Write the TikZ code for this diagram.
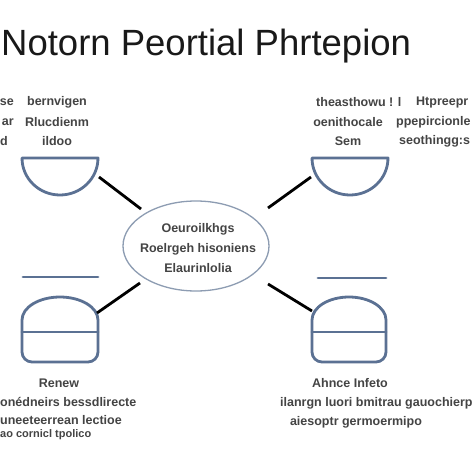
\documentclass[tikz,border=0pt]{standalone}
\usepackage{fontspec}
\setmainfont{Liberation Sans}
\usetikzlibrary{shapes.geometric}
\definecolor{shapeblue}{HTML}{5B7193}
\definecolor{ellline}{HTML}{8D9CB2}
\definecolor{txtgray}{HTML}{444444}
\tikzset{
  shp/.style={draw=shapeblue, line width=2.8pt, line join=round, line cap=round},
  conn/.style={draw=black, line width=2.8pt},
  lbl/.style={text=txtgray, font=\bfseries\fontsize{12.5}{13}\selectfont, inner sep=0pt},
  lbls/.style={text=txtgray, font=\bfseries\fontsize{11}{12}\selectfont, inner sep=0pt},
}
\begin{document}
\begin{tikzpicture}[x=1pt,y=1pt,yscale=-1]
\useasboundingbox[fill=white] (0,0) rectangle (474,474);
% title
\node[anchor=base west, inner sep=0pt, text=black!90, font=\fontsize{36.5}{40}\selectfont] (title) at (1,55) {Notorn Peortial Phrtepion};
% hub ellipse
\node[ellipse, draw=ellline, line width=1.3pt, minimum width=146pt, minimum height=90pt, inner sep=0pt] (hub) at (196,246) {};
\node[lbl] (h1) at (198,229) {Oeuroilkhgs};
\node[lbl] (h2) at (198,249) {Roelrgeh hisoniens};
\node[lbl] (h3) at (198,268) {Elaurinlolia};
% top-left bowl
\draw[shp] (22,158) -- (98,158) arc[start angle=0, end angle=180, x radius=38, y radius=37];
\coordinate (tlA) at (99,177);
\coordinate (tlB) at (141,209);
\draw[conn] (tlA) -- (tlB);
% top-right bowl
\draw[shp] (312,158) -- (388,158) arc[start angle=0, end angle=180, x radius=38, y radius=37];
\coordinate (trA) at (311,177);
\coordinate (trB) at (268,208);
\draw[conn] (trA) -- (trB);
% bottom-left dome
\draw[shp] (23,277) -- (98,277);
\draw[shp] (22,320) arc[start angle=180, end angle=360, x radius=38, y radius=23] -- (98,352) arc[start angle=0, end angle=90, radius=10] -- (32,362) arc[start angle=90, end angle=180, radius=10] -- cycle;
\draw[shp] (22,332) -- (98,332);
\coordinate (blA) at (97,313);
\coordinate (blB) at (140,283);
\draw[conn] (blA) -- (blB);
% bottom-right dome
\draw[shp] (318,278) -- (386,278);
\draw[shp] (312,320) arc[start angle=180, end angle=360, x radius=37, y radius=23] -- (386,352) arc[start angle=0, end angle=90, radius=10] -- (322,362) arc[start angle=90, end angle=180, radius=10] -- cycle;
\draw[shp] (312,332) -- (386,332);
\coordinate (brA) at (312,311);
\coordinate (brB) at (268,284);
\draw[conn] (brA) -- (brB);
% top-left text
\node[lbl] (tl1) at (57,102) {bernvigen};
\node[lbl] (tl2) at (57,122) {Rlucdienm};
\node[lbl] (tl3) at (57,141) {ildoo};
\node[lbl, anchor=east] (tlc1) at (14,102) {se};
\node[lbl, anchor=east] (tlc2) at (14,122) {ar};
\node[lbl, anchor=east] (tlc3) at (8,141) {d};
% top-right text
\node[lbl, anchor=west] (tr1) at (316,102) {theasthowu ! l};
\node[lbl] (tr2) at (348,122) {oenithocale};
\node[lbl] (tr3) at (348,141) {Sem};
\node[lbl, anchor=west] (trc1) at (416,102) {Htpreepr};
\node[lbl, anchor=west] (trc2) at (396,122) {ppepircionle};
\node[lbl, anchor=west] (trc3) at (399,141) {seothingg:s};
% bottom-left text
\node[lbl] (bl1) at (59,383) {Renew};
\node[lbl, anchor=west] (bl2) at (0,402) {onédneirs bessdlirecte};
\node[lbl, anchor=west] (bl3) at (0,420) {uneeteerrean lectioe};
\node[lbls, anchor=west] (bl4) at (0,435) {ao cornicl tpolico};
% bottom-right text
\node[lbl] (br1) at (350,383) {Ahnce Infeto};
\node[lbl, anchor=west] (br2) at (280,403) {ilanrgn luori bmitrau gauochierp};
\node[lbl] (br3) at (356,422) {aiesoptr germoermipo};
\end{tikzpicture}
\end{document}
